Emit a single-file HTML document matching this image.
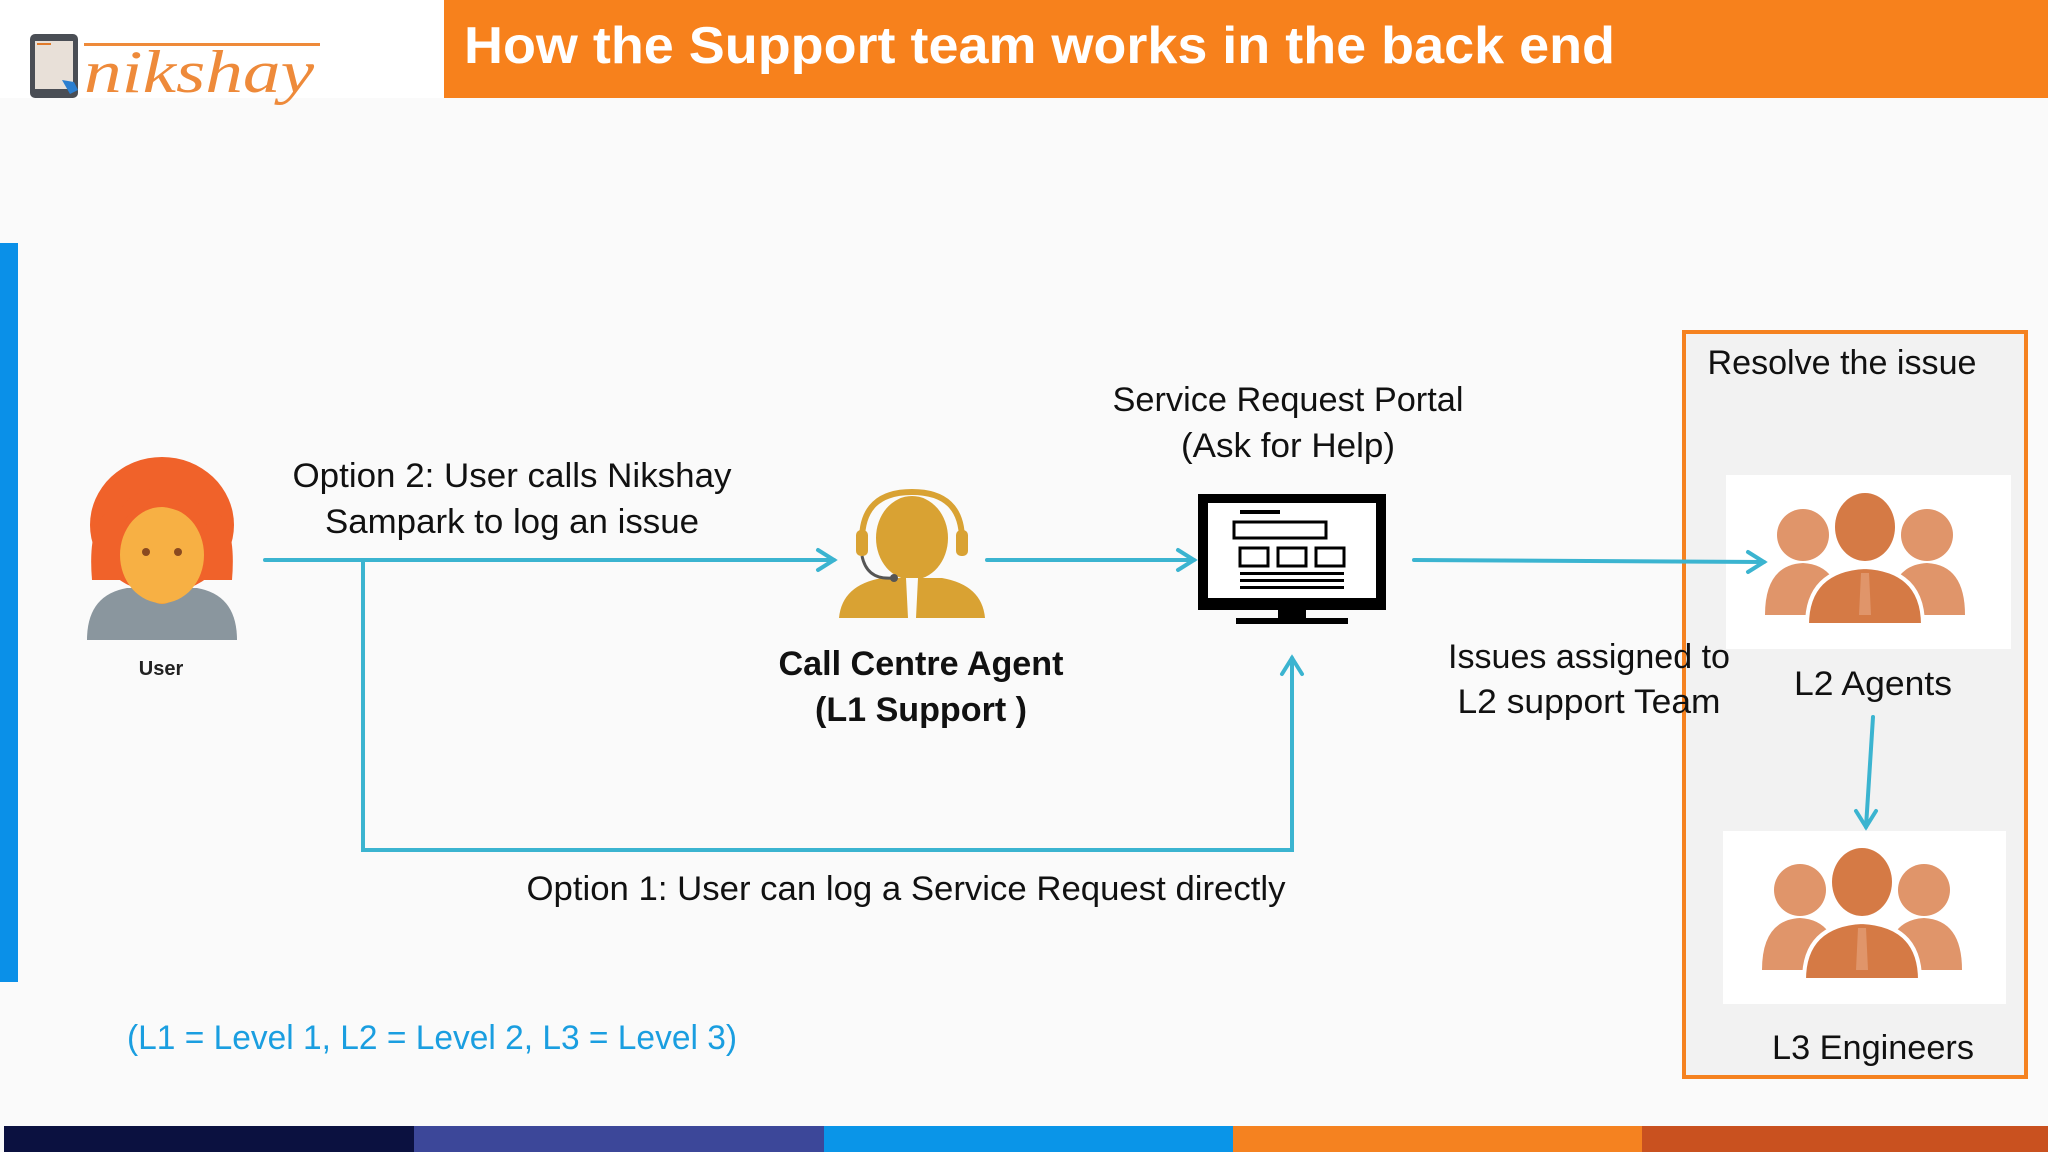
<!DOCTYPE html>
<html><head><meta charset="utf-8"><style>
html,body{margin:0;padding:0;background:#fafafa;}
svg{display:block;font-family:"Liberation Sans",sans-serif;}
</style></head><body>
<svg width="2048" height="1152" viewBox="0 0 2048 1152" xmlns="http://www.w3.org/2000/svg">
<rect width="2048" height="1152" fill="#fafafa"/>
<!-- header -->
<rect x="0" y="0" width="444" height="98" fill="#ffffff"/>
<rect x="444" y="0" width="1604" height="98" fill="#f7811c"/>
<text x="464" y="63" font-size="52" font-weight="bold" fill="#fff" textLength="1151" lengthAdjust="spacingAndGlyphs">How the Support team works in the back end</text>
<!-- logo -->
<rect x="30" y="34" width="48" height="64" rx="5" fill="#4a4e55"/>
<rect x="35" y="41" width="38" height="48" fill="#e8e0d8"/>
<rect x="37" y="43" width="14" height="2" fill="#e07a2a"/>
<path d="M62 80 l8 14 l8-4 l-4-8 z" fill="#2b7fd0"/>
<text x="84" y="92" font-size="60" fill="#ee8a3a" font-family="Liberation Serif,serif" font-style="italic" textLength="230" lengthAdjust="spacingAndGlyphs">nikshay</text>
<rect x="84" y="43" width="236" height="3" fill="#ee8a3a"/>
<!-- left bar -->
<rect x="0" y="243" width="18" height="739" fill="#0a90e8"/>
<!-- bottom bars -->
<rect x="4" y="1126" width="410" height="26" fill="#0b1140"/>
<rect x="414" y="1126" width="410" height="26" fill="#3c4799"/>
<rect x="824" y="1126" width="409" height="26" fill="#0a95e8"/>
<rect x="1233" y="1126" width="409" height="26" fill="#f58220"/>
<rect x="1642" y="1126" width="406" height="26" fill="#c9511f"/>
<!-- orange box -->
<rect x="1684" y="332" width="342" height="745" fill="#f2f2f2" stroke="#f58220" stroke-width="4"/>
<rect x="1726" y="475" width="285" height="174" fill="#fff"/>
<rect x="1723" y="831" width="283" height="173" fill="#fff"/>
<!-- connectors -->
<g stroke="#3bb4d0" stroke-width="4" fill="none" stroke-linecap="round">
<path d="M265 560 H834"/><path d="M818 550 l16 10 l-16 10"/>
<path d="M363 560 V850 H1292 V658"/><path d="M1282 674 l10-16 l10 16"/>
<path d="M987 560 H1194"/><path d="M1178 550 l16 10 l-16 10"/>
<path d="M1414 560 L1764 562"/><path d="M1748 552 l16 10 l-16 10"/>
<path d="M1873 717 L1866 827"/><path d="M1856 811 l10 16 l10-16"/>
</g>
<!-- user icon -->
<g transform="translate(162,560)">
<path d="M-75 80 Q-75 35 -35 28 L35 28 Q75 35 75 80 Z" fill="#8a969e"/>
<path d="M-22 28 Q0 60 22 28 Z" fill="#f6a33a"/>
<ellipse cx="0" cy="-35" rx="72" ry="68" fill="#f0622a"/>
<path d="M-70 20 Q-75 -40 -50 -50 L50 -50 Q75 -40 70 20 Z" fill="#f0622a"/>
<ellipse cx="0" cy="-5" rx="42" ry="48" fill="#f7b044"/>
<path d="M-45 -30 Q-20 -75 45 -35 Q40 -70 0 -72 Q-45 -70 -45 -30Z" fill="#f0622a"/>
<circle cx="-16" cy="-8" r="4" fill="#8a4a20"/><circle cx="16" cy="-8" r="4" fill="#8a4a20"/>
</g>
<text x="161" y="675" font-size="20" font-weight="bold" text-anchor="middle" fill="#222">User</text>
<!-- agent icon -->
<g transform="translate(912,560)" fill="#d9a233">
<path d="M-73 58 Q-70 25 -30 18 L30 18 Q70 25 73 58 Z"/>
<ellipse cx="0" cy="-22" rx="36" ry="42"/>
<path d="M-50 -20 Q-50 -68 0 -68 Q50 -68 50 -20" stroke="#d9a233" stroke-width="6" fill="none"/>
<rect x="-56" y="-30" width="12" height="26" rx="5"/><rect x="44" y="-30" width="12" height="26" rx="5"/>
<path d="M-50 -4 Q-45 20 -20 18" stroke="#555" stroke-width="3" fill="none"/>
<circle cx="-18" cy="18" r="4" fill="#555"/>
<path d="M-6 18 L6 18 L4 58 L-4 58 Z" fill="#fafafa"/>
</g>
<!-- monitor -->
<rect x="1198" y="494" width="188" height="116" fill="#000"/>
<rect x="1208" y="503" width="168" height="95" fill="#fff"/>
<rect x="1234" y="522" width="92" height="16" fill="none" stroke="#000" stroke-width="3"/>
<rect x="1240" y="510" width="40" height="4" fill="#000"/>
<rect x="1240" y="548" width="28" height="18" fill="none" stroke="#000" stroke-width="3"/>
<rect x="1278" y="548" width="28" height="18" fill="none" stroke="#000" stroke-width="3"/>
<rect x="1316" y="548" width="28" height="18" fill="none" stroke="#000" stroke-width="3"/>
<rect x="1240" y="572" width="104" height="3" fill="#000"/><rect x="1240" y="579" width="104" height="3" fill="#000"/><rect x="1240" y="586" width="104" height="3" fill="#000"/>
<rect x="1278" y="610" width="28" height="8" fill="#000"/>
<rect x="1236" y="618" width="112" height="6" fill="#000"/>
<!-- people groups -->
<defs>
<g id="grp">
<circle cx="-62" cy="-30" r="26" fill="#e0956a"/>
<path d="M-100 50 Q-100 0 -62 -2 Q-24 0 -24 50 Z" fill="#e0956a"/>
<circle cx="62" cy="-30" r="26" fill="#e0956a"/>
<path d="M24 50 Q24 0 62 -2 Q100 0 100 50 Z" fill="#e0956a"/>
<ellipse cx="0" cy="-38" rx="30" ry="34" fill="#d57a45"/>
<path d="M-58 60 Q-58 5 0 2 Q58 5 58 60 Z" fill="#d57a45" stroke="#fff" stroke-width="4"/>
<path d="M-4 8 L4 8 L6 50 L-6 50 Z" fill="#e0956a"/>
</g>
</defs>
<use href="#grp" transform="translate(1865,565)"/>
<use href="#grp" transform="translate(1862,920)"/>
<!-- texts -->
<g font-size="34" fill="#111" text-anchor="middle">
<text x="512" y="487" textLength="439" lengthAdjust="spacingAndGlyphs">Option 2: User calls Nikshay</text>
<text x="512" y="533" textLength="374" lengthAdjust="spacingAndGlyphs">Sampark to log an issue</text>
<text x="921" y="675" font-weight="bold" textLength="285" lengthAdjust="spacingAndGlyphs">Call Centre Agent</text>
<text x="921" y="721" font-weight="bold" textLength="212" lengthAdjust="spacingAndGlyphs">(L1 Support )</text>
<text x="1288" y="411" textLength="351" lengthAdjust="spacingAndGlyphs">Service Request Portal</text>
<text x="1288" y="457" textLength="214" lengthAdjust="spacingAndGlyphs">(Ask for Help)</text>
<text x="1589" y="668" textLength="282" lengthAdjust="spacingAndGlyphs">Issues assigned to</text>
<text x="1589" y="713" textLength="263" lengthAdjust="spacingAndGlyphs">L2 support Team</text>
<text x="1842" y="374" textLength="269" lengthAdjust="spacingAndGlyphs">Resolve the issue</text>
<text x="1873" y="695" textLength="158" lengthAdjust="spacingAndGlyphs">L2 Agents</text>
<text x="1873" y="1059" textLength="202" lengthAdjust="spacingAndGlyphs">L3 Engineers</text>
<text x="906" y="900" textLength="759" lengthAdjust="spacingAndGlyphs">Option 1: User can log a Service Request directly</text>
</g>
<text x="127" y="1049" font-size="34" fill="#1a9ee0" textLength="610" lengthAdjust="spacingAndGlyphs">(L1 = Level 1, L2 = Level 2, L3 = Level 3)</text>
</svg>
</body></html>
